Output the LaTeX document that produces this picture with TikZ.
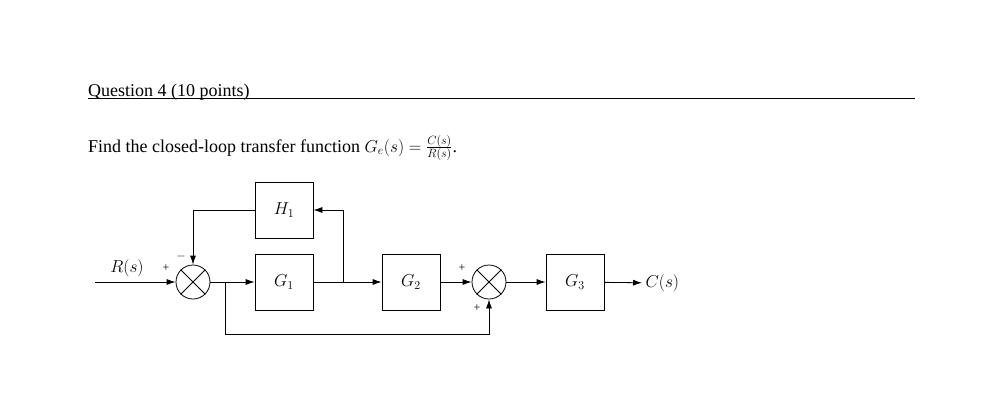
\documentclass[tikz,border=0pt]{standalone}
\usepackage{fontspec}
\setmainfont{Liberation Serif}
\usetikzlibrary{arrows.meta}
\begin{document}
\begin{tikzpicture}[x=1pt,y=-1pt,
  blk/.style={draw,line width=0.8pt,minimum width=58pt,minimum height=56pt,inner sep=0pt,font=\fontsize{17}{17}\selectfont},
  sumj/.style={draw,circle,line width=0.8pt,minimum size=34pt,inner sep=0pt},
  ln/.style={line width=0.8pt},
  ar/.style={ln,-{Latex[length=9pt,width=6pt]}},
  sg/.style={font=\fontsize{12}{12}\selectfont,inner sep=1pt}]
\useasboundingbox (0,0) rectangle (999,413);
\node[anchor=base west,inner sep=0pt,font=\fontsize{18}{18}\selectfont] (title) at (88,96) {Question 4 (10 points)};
\draw[ln] (88,98) coordinate (u1) -- (915,98) coordinate (u2);
\node[anchor=base west,inner sep=0pt,font=\fontsize{18}{18}\selectfont] (q) at (88,152) {Find the closed-loop transfer function $G_e(s)=\frac{C(s)}{R(s)}$.};
\node[sumj] (s1) at (193,282) {};
\draw[ln] (s1.north west) -- (s1.south east) (s1.north east) -- (s1.south west);
\node[sumj] (s2) at (489,282) {};
\draw[ln] (s2.north west) -- (s2.south east) (s2.north east) -- (s2.south west);
\node[blk] (g1) at (284,282) {$G_1$};
\node[blk] (h1) at (284,210) {$H_1$};
\node[blk] (g2) at (411,282) {$G_2$};
\node[blk] (g3) at (575,282) {$G_3$};
\node[font=\fontsize{16}{16}\selectfont] (r) at (127,268) {$R(s)$};
\node[font=\fontsize{16}{16}\selectfont,anchor=west] (c) at (642,283) {$C(s)$};
\coordinate (in) at (95,282);
\draw[ar] (in) -- (s1);
\draw[ar] (s1) -- (g1);
\draw[ar] (g1) -- (g2);
\coordinate (tap) at (343,282);
\draw[ar] (tap) |- (h1.east);
\draw[ar] (h1.west) -| (s1.north);
\draw[ar] (g2) -- (s2);
\draw[ar] (s2) -- (g3);
\draw[ar] (g3) -- (c);
\coordinate (ff) at (225,282);
\draw[ar] (ff) -- (225,334) -| (s2.south);
\node[sg] (p1) at (166,268) {+};
\node[sg] (m1) at (181,256) {$-$};
\node[sg] (p2) at (462,268) {+};
\node[sg] (p3) at (477,308) {+};
\end{tikzpicture}
\end{document}
